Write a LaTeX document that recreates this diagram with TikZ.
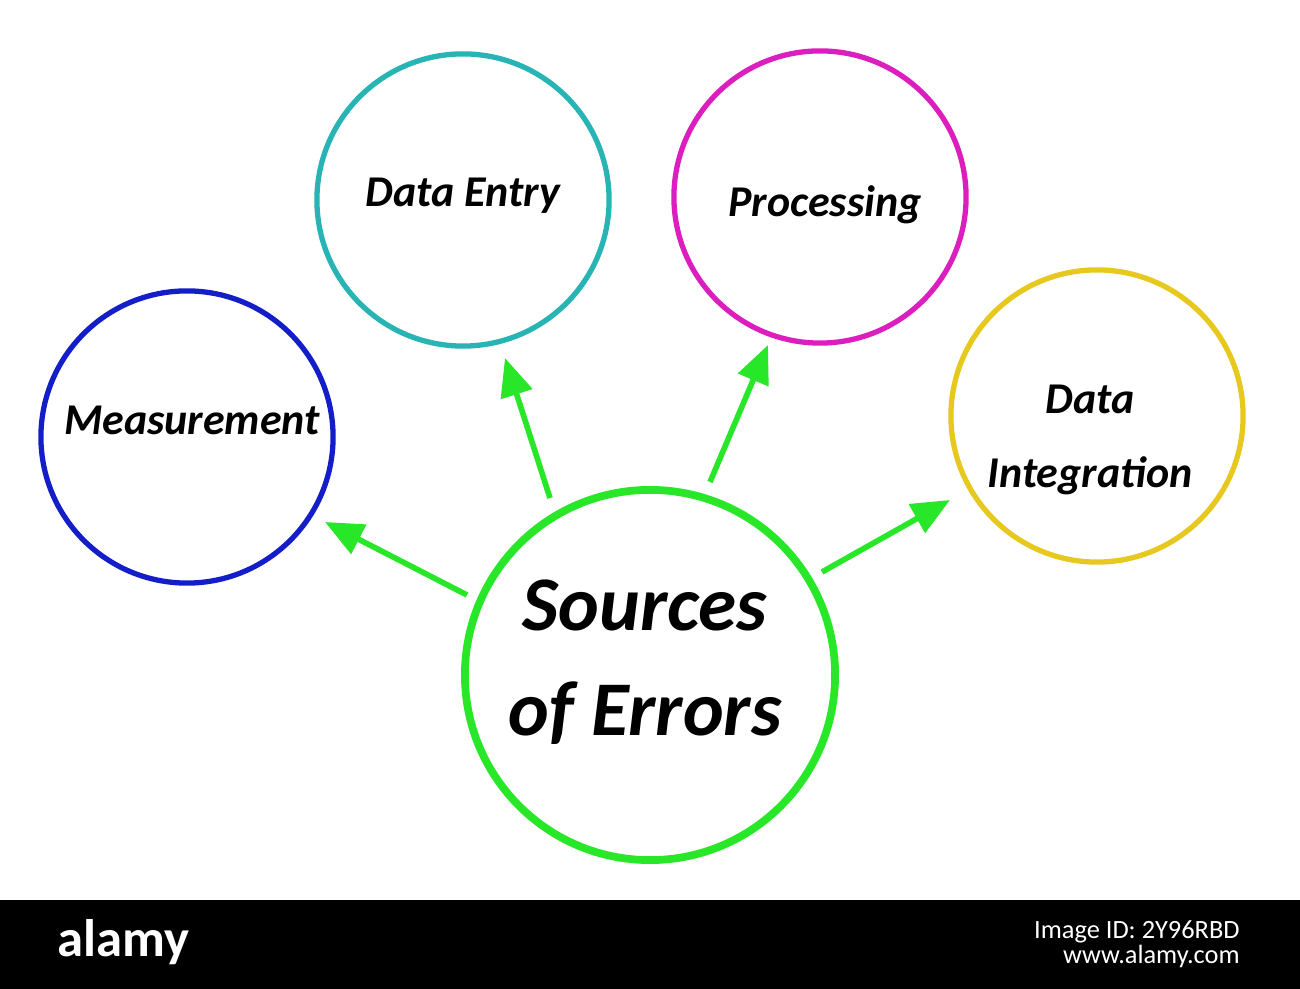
\documentclass[tikz,border=0pt]{standalone}
\usepackage{fontspec}
\setmainfont{Carlito}
\usetikzlibrary{arrows.meta}
\definecolor{cblue}{RGB}{20,30,200}
\definecolor{cteal}{RGB}{40,180,180}
\definecolor{cmag}{RGB}{220,30,190}
\definecolor{cyel}{RGB}{230,200,30}
\definecolor{cgreen}{RGB}{40,230,40}
\tikzset{
  ring/.style={circle, draw, line width=1.5pt, inner sep=0pt, minimum size=2.92cm},
  lbl/.style={font=\bfseries\itshape\fontsize{12.5}{15}\selectfont, align=center},
  arr/.style={draw=cgreen, line width=1.6pt, -{Triangle[length=0.38cm,width=0.32cm]}}
}
\begin{document}
\begin{tikzpicture}[x=0.01cm,y=-0.01cm]
\useasboundingbox (0,0) rectangle (1300,989);
\fill[white] (0,0) rectangle (1300,989);
\node[ring, draw=cblue] (meas) at (187,437) {};
\node[ring, draw=cteal] (entry) at (463,200) {};
\node[ring, draw=cmag] (proc) at (820,197) {};
\node[ring, draw=cyel] (integ) at (1097,416) {};
\node[ring, draw=cgreen, line width=2.2pt, minimum size=3.7cm] (src) at (650,675) {};
\node[lbl] (tmeas) at (192,420) {Measurement};
\node[lbl] (tentry) at (463,196) {Data Entry};
\node[lbl] (tproc) at (825,205) {Processing};
\node[lbl] (tinteg) at (1090,440) {Data\\[6pt]Integration};
\node[font=\bfseries\itshape\fontsize{22}{30}\selectfont, align=center] (tsrc) at (645,662) {Sources\\of Errors};
\coordinate (a1) at (467,595); \coordinate (b1) at (325,522);
\coordinate (a2) at (550,498); \coordinate (b2) at (505,358);
\coordinate (a3) at (710,482); \coordinate (b3) at (768,345);
\coordinate (a4) at (822,572); \coordinate (b4) at (950,500);
\draw[arr] (a1) -- (b1);
\draw[arr] (a2) -- (b2);
\draw[arr] (a3) -- (b3);
\draw[arr] (a4) -- (b4);
\fill[black] (0,900) rectangle (1300,989);
\node[white, font=\bfseries\fontsize{15}{17}\selectfont, anchor=west] (logo) at (45,942) {alamy};
\node[white, font=\fontsize{7.5}{9}\selectfont, anchor=east] (iid) at (1252,932) {Image ID: 2Y96RBD};
\node[white, font=\fontsize{7.5}{9}\selectfont, anchor=east] (www) at (1252,956) {www.alamy.com};
\end{tikzpicture}
\end{document}
